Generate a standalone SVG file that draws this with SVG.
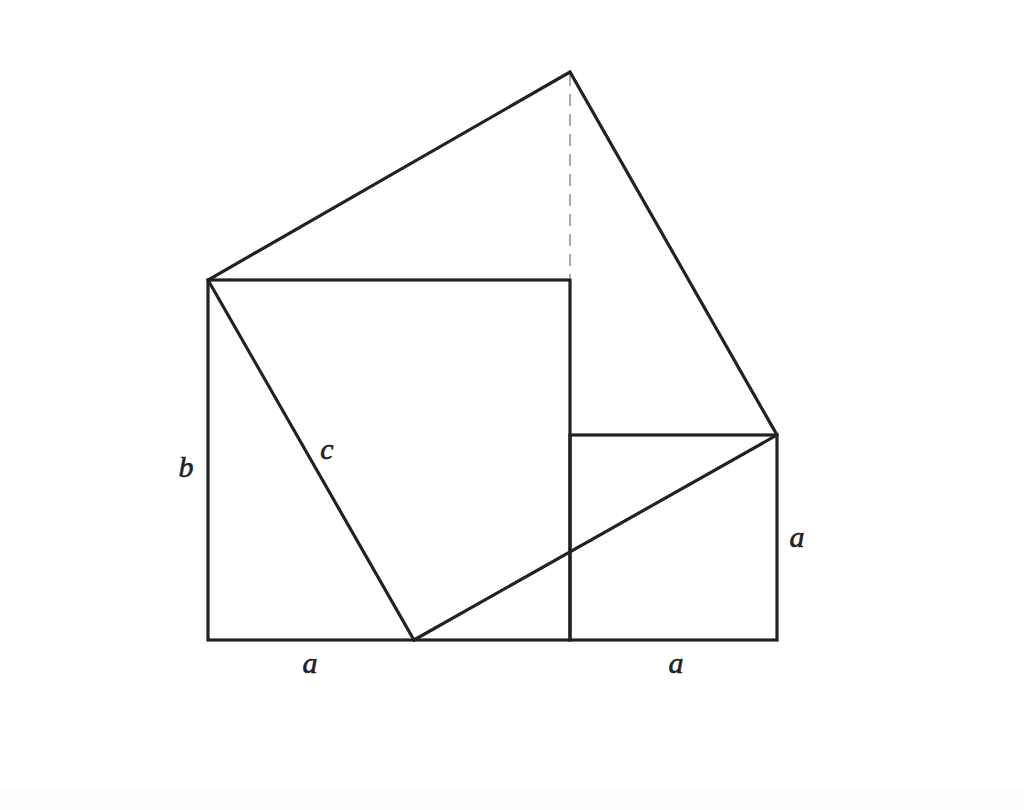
<svg xmlns="http://www.w3.org/2000/svg" width="1024" height="810" viewBox="0 0 1024 810">
<style>
.ln{fill:none;stroke:#222;stroke-width:3.2;stroke-linejoin:miter;stroke-linecap:square}
.dash{fill:none;stroke:#aaa;stroke-width:2;stroke-dasharray:12 8}
.lbl{font-family:"Liberation Serif","DejaVu Serif",serif;font-style:italic;font-size:30px;fill:#222;stroke:#222;stroke-width:0.6}
</style>
<rect width="1024" height="810" fill="#fff"/>
<rect x="0" y="790" width="1024" height="20" fill="#fcfcfc"/>
<g id="connectors">
<line class="dash" x1="570" y1="74" x2="570" y2="278"/>
</g>
<g id="big-square"><rect class="ln" x="208" y="280" width="362" height="360"/></g>
<g id="small-square"><rect class="ln" x="570" y="435" width="207" height="205"/></g>
<g id="hyp-square"><polygon class="ln" points="208,280 414,640 777,435 570,72"/></g>
<g id="labels">
<text class="lbl" x="186" y="477" text-anchor="middle">b</text>
<text class="lbl" x="327" y="459" text-anchor="middle">c</text>
<text class="lbl" x="310" y="673" text-anchor="middle">a</text>
<text class="lbl" x="676" y="673" text-anchor="middle">a</text>
<text class="lbl" x="797" y="547" text-anchor="middle">a</text>
</g>
</svg>
